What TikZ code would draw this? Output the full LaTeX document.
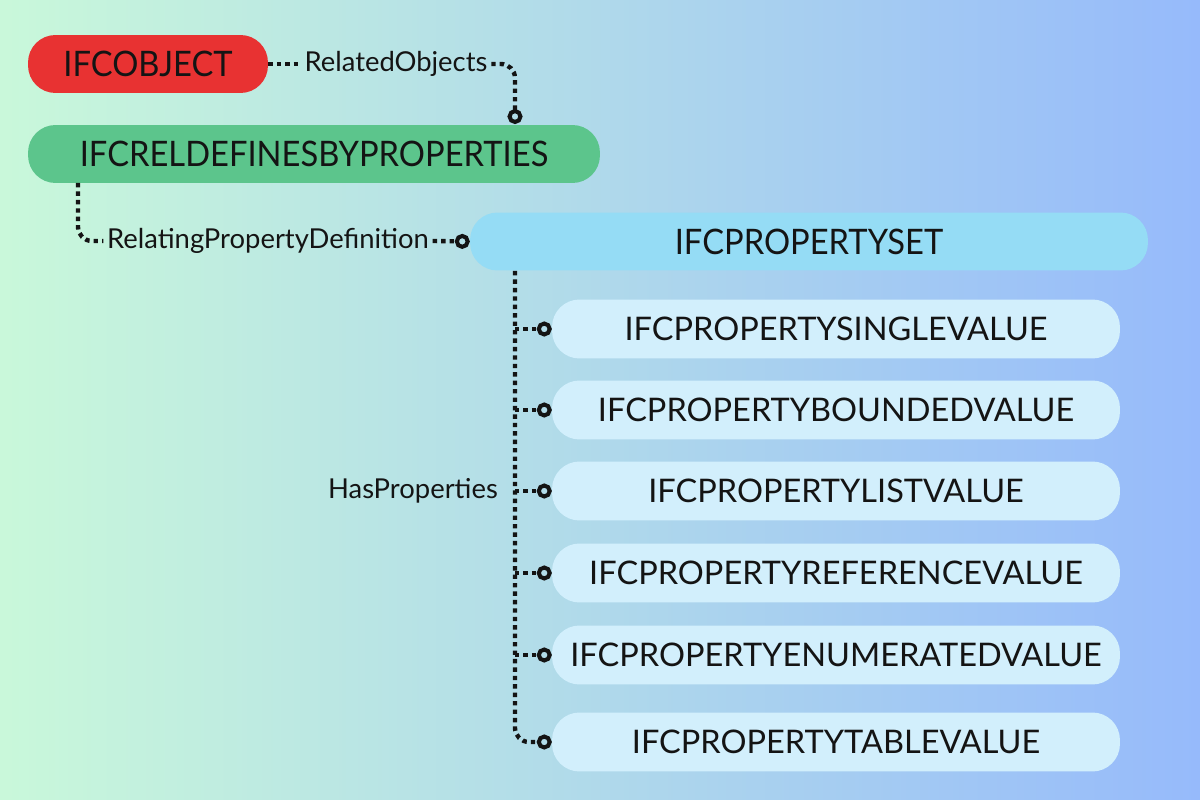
\documentclass[tikz,border=0pt]{standalone}
\usepackage{fontspec}
\setmainfont{Lato}
\newfontfamily\boxfont{Lato}[FakeStretch=0.93]
\usepackage{tikz}
\usetikzlibrary{positioning,arrows.meta}
\definecolor{bgleft}{RGB}{201,248,218}
\definecolor{bgmid}{RGB}{180,226,230}
\definecolor{bgright}{RGB}{150,186,251}
\definecolor{objred}{RGB}{232,50,50}
\definecolor{relgreen}{RGB}{92,197,140}
\definecolor{psetblue}{RGB}{149,220,245}
\definecolor{propblue}{RGB}{210,239,252}
\definecolor{ink}{RGB}{20,20,20}

\begin{document}
\begin{tikzpicture} [x=0.02cm,y=-0.02cm,
	object main/.style={
		rectangle,fill=#1,text=ink,inner sep=0pt,
		minimum height=1.16cm,rounded corners=0.55cm,
		font=\boxfont\fontsize{20}{24}\selectfont},
	object prop/.style={
		rectangle,fill=propblue,text=ink,inner sep=0pt,
		minimum width=11.36cm,minimum height=1.18cm,rounded corners=0.55cm,
		font=\fontsize{18.5}{22}\selectfont},
	attr/.style={
		text=ink,inner sep=2pt,
		font=\fontsize{15.6}{18}\selectfont},
	link/.style={
		ink,line width=2.5pt,dash pattern=on 2.5pt off 2.3pt,
		rounded corners=8pt},
	tip/.style={
		-{Circle[open,length=8.5pt,width=8.5pt,line width=2.3pt]}}]
\shade[left color=bgleft,middle color=bgmid,right color=bgright] (0,0) rectangle (1200,800);
\node[object main=objred,minimum width=4.8cm] 	(object) 	at (148,64) {IFCOBJECT};
\node[object main=relgreen,minimum width=11.44cm] 	(rel) 	at (314,154) {IFCRELDEFINESBYPROPERTIES};
\node[object main=psetblue,minimum width=13.56cm] 	(pset) 	at (809,241.5) {IFCPROPERTYSET};
\node[object prop] 	(singlevalue) 		at (836,329) {IFCPROPERTYSINGLEVALUE};
\node[object prop] 	(boundedvalue) 	at (836,410) {IFCPROPERTYBOUNDEDVALUE};
\node[object prop] 	(listvalue) 		at (836,491) {IFCPROPERTYLISTVALUE};
\node[object prop] 	(referencevalue) 	at (836,573) {IFCPROPERTYREFERENCEVALUE};
\node[object prop] 	(enumeratedvalue) 	at (836,655) {IFCPROPERTYENUMERATEDVALUE};
\node[object prop] 	(tablevalue) 		at (836,742) {IFCPROPERTYTABLEVALUE};
\node[attr] 	(related objects) 		at (396,64) {RelatedObjects};
\node[attr] 	(relating definition) 	at (268,241) {RelatingPropertyDefinition};
\node[attr] 	(has properties) 		at (413,491) {HasProperties};
\coordinate (rel in) 	at (515,124);
\coordinate (rel out) 	at (78,183);
\coordinate (trunk top) 	at (515,271);
\draw[link] (object.east) -- (related objects.west);
\draw[link,tip] (related objects.east) -| (rel in);
\draw[link] (rel out) |- (relating definition.west);
\draw[link,tip] (relating definition.east) -- (pset.west);
\draw[link,tip] (trunk top) |- (tablevalue.west);
\draw[link,tip] (singlevalue.west -| trunk top) -- (singlevalue.west);
\draw[link,tip] (boundedvalue.west -| trunk top) -- (boundedvalue.west);
\draw[link,tip] (listvalue.west -| trunk top) -- (listvalue.west);
\draw[link,tip] (referencevalue.west -| trunk top) -- (referencevalue.west);
\draw[link,tip] (enumeratedvalue.west -| trunk top) -- (enumeratedvalue.west);
\end{tikzpicture}
\end{document}
